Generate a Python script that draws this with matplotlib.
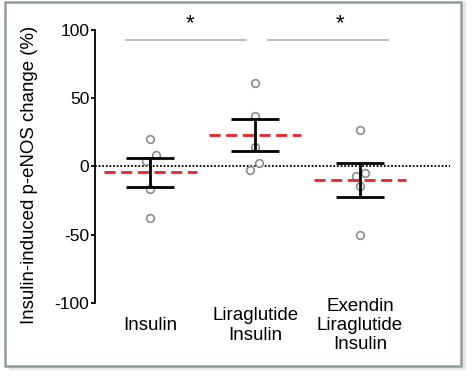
#!/usr/bin/env python3
"""Insulin-induced p-eNOS change, scatter with mean and SEM."""
import numpy as np
import matplotlib.pyplot as plt
from matplotlib.patches import Rectangle

plt.rcParams['font.family'] = ['Liberation Sans', 'DejaVu Sans']
plt.rcParams['axes.unicode_minus'] = False

groups = ['Insulin', 'Liraglutide\nInsulin', 'Exendin\nLiraglutide\nInsulin']
points = [
    [20, 8.3, 4.2, -16.7, -37.5],
    [61.3, 37.2, 14, 2.9, -2.5],
    [27, -4.9, -6.9, -14.2, -50.5],
]
jitter = [
    [0, 0.05, -0.04, 0, 0],
    [0, 0, 0, 0.04, -0.05],
    [0, 0.05, -0.04, 0, 0],
]
means = [-4.4, 23.0, -10.0]
sems = [10.3, 11.7, 12.3]
# significance brackets: (x start, x end, star x)
sig_bars = [(0.77, 1.91, 1.38), (2.12, 3.27, 2.81)]
sig_y = 92.5
yticks = [-100, -50, 0, 50, 100]

fig = plt.figure(figsize=(4.74, 3.81), dpi=100)
ax = fig.add_axes([0.2004, 0.205, 0.749, 0.716])

GREY = '#8c8c8c'
RED = '#e8232a'

ax.axhline(0, color='black', lw=1.3, ls=(0, (1, 1)), zorder=1)

for i, (pts, jit) in enumerate(zip(points, jitter)):
    x = i + 1
    ax.plot(np.array(jit) + x, pts, 'o', ms=5.5, mfc='white', mec=GREY,
            mew=1.2, zorder=3)
    ax.errorbar(x, means[i], yerr=sems[i], fmt='none', ecolor='black',
                elinewidth=2, capsize=17, capthick=2, zorder=4)
    ax.plot([x - 0.44, x + 0.44], [means[i], means[i]], color=RED, lw=2,
            ls=(0, (4, 2)), zorder=5)
    ax.text(x, -116.5, groups[i], ha='center', va='center', fontsize=13.5,
            linespacing=1.18, clip_on=False)

for x0, x1, xs in sig_bars:
    ax.plot([x0, x1], [sig_y, sig_y], color='#a8b4b4', lw=1.2,
            clip_on=False)
    ax.text(xs, 104.5, '*', ha='center', va='center', fontsize=16,
            clip_on=False)

ax.set_xlim(0.47, 3.86)
ax.set_ylim(-100, 100)
ax.set_yticks(yticks)
ax.tick_params(axis='y', labelsize=12.5, length=3, width=1.3, pad=1)
ax.set_xticks([])
for side in ['top', 'right', 'bottom']:
    ax.spines[side].set_visible(False)
ax.spines['left'].set_linewidth(1.3)
ax.set_ylabel('Insulin-induced p-eNOS change (%)', fontsize=13.4)
ax.yaxis.set_label_coords(-0.16, 0.47)

# framed picture with a soft shadow
fig.patches.append(Rectangle((0.018, 0.028), 0.965, 0.967, transform=fig.transFigure,
                             fc='#e6e6e6', ec='none', zorder=-2))
fig.patches.append(Rectangle((0.011, 0.04), 0.962, 0.955, transform=fig.transFigure,
                             fc='white', ec='#8f9c9c', lw=1.8, zorder=-1))

fig.savefig('out.png', dpi=100, facecolor='white')
